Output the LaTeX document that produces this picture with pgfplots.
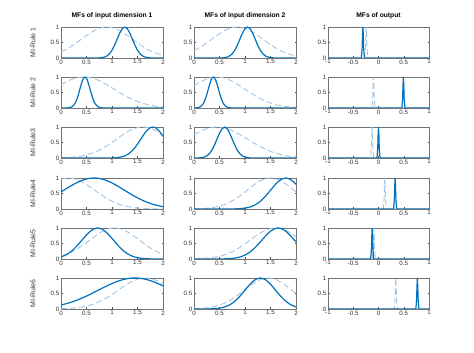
\documentclass[border=0pt]{standalone}
\usepackage{fontspec}
\setmainfont{Liberation Sans}
\usepackage{pgfplots}
\pgfplotsset{compat=1.18}
\definecolor{mblue}{rgb}{0,0.447,0.741}
\definecolor{mlight}{rgb}{0.64,0.77,0.90}
\pgfplotsset{
 mf/.style={scale only axis, width=102pt, height=31pt, ymin=0, ymax=1,
  ytick={0,0.5,1}, yticklabels={0,0.5,1},
  axis line style={draw=black!55, line width=0.4pt},
  tick style={draw=black!70, line width=0.4pt}, tick align=inside, major tick length=1.5pt,
  tick label style={font=\fontsize{6.2}{7}\selectfont, text=black!80},
  xticklabel style={inner sep=1pt, yshift=-0.5pt}, yticklabel style={inner sep=1.5pt},
  ylabel style={font=\fontsize{6.9}{8}\selectfont, text=black!80, at={(axis description cs:-0.275,0.5)}, anchor=center},
  title style={font=\bfseries\fontsize{6.7}{7.5}\selectfont, at={(axis description cs:0.5,1)}, anchor=base, inner sep=0pt, yshift=3pt},
  clip=true},
 c12/.style={mf, xmin=0, xmax=2, xtick={0,0.5,1,1.5,2}, xticklabels={0,0.5,1,1.5,2}},
 c3/.style={mf, xmin=-1, xmax=1, xtick={-1,-0.5,0,0.5,1}, xticklabels={-1,-0.5,0,0.5,1}},
 sol/.style={mblue, line width=1.2pt, no markers},
 das/.style={mlight, line width=0.9pt, dash pattern=on 6pt off 3pt, no markers}
}
\begin{document}
\begin{tikzpicture}
\path[use as bounding box] (0,0) rectangle (474pt,353pt);
% ---------------- Row 1
\begin{axis}[c12, at={(61pt,295pt)}, anchor=south west, title={MFs of input dimension 1}, ylabel={MI-Rule 1}]
\addplot[das,smooth] coordinates {(0,.198)(.1,.278)(.2,.375)(.3,.487)(.4,.607)(.5,.726)(.6,.835)(.7,.923)(.8,.980)(.9,1)(1.0,.980)(1.1,.923)(1.2,.835)(1.3,.726)(1.4,.607)(1.5,.487)(1.6,.375)(1.7,.278)(1.8,.198)(1.9,.135)(2.0,.089)};
\addplot[sol] coordinates {(0,0)(0.7,.001)(0.75,.004)(0.8,.011)(0.85,.029)(0.9,.066)(0.95,.135)(1.0,.249)(1.05,.411)(1.1,.607)(1.15,.801)(1.2,.946)(1.25,1)(1.3,.946)(1.35,.801)(1.4,.607)(1.45,.411)(1.5,.249)(1.55,.135)(1.6,.066)(1.65,.029)(1.7,.011)(1.75,.004)(1.8,.001)(2,0)};
\end{axis}
\begin{axis}[c12, at={(194pt,295pt)}, anchor=south west, title={MFs of input dimension 2}]
\addplot[das,smooth] coordinates {(0,.236)(.1,.325)(.2,.430)(.3,.546)(.4,.667)(.5,.783)(.6,.882)(.7,.956)(.8,.995)(.85,1)(.9,.995)(1.0,.956)(1.1,.882)(1.2,.783)(1.3,.667)(1.4,.546)(1.5,.430)(1.6,.325)(1.7,.236)(1.8,.164)(1.9,.110)(2.0,.071)};
\addplot[sol] coordinates {(0,0)(0.5,.001)(0.55,.004)(0.6,.011)(0.65,.029)(0.7,.066)(0.75,.135)(0.8,.249)(0.85,.411)(0.9,.607)(0.95,.801)(1.0,.946)(1.05,1)(1.1,.946)(1.15,.801)(1.2,.607)(1.25,.411)(1.3,.249)(1.35,.135)(1.4,.066)(1.45,.029)(1.5,.011)(1.55,.004)(1.6,.001)(2,0)};
\end{axis}
\begin{axis}[c3, at={(328pt,295pt)}, anchor=south west, width=101pt, title={MFs of output}]
\addplot[das] coordinates {(-1,0)(-0.273,0)(-0.258,.32)(-0.251,.73)(-0.243,1)(-0.235,.73)(-0.228,.32)(-0.213,0)(1,0)};
\addplot[sol] coordinates {(-1,0)(-0.339,0)(-0.324,.32)(-0.317,.73)(-0.309,1)(-0.301,.73)(-0.294,.32)(-0.279,0)(1,0)};
\end{axis}
% ---------------- Row 2
\begin{axis}[c12, at={(61pt,245pt)}, anchor=south west, ylabel={MI-Rule 2}]
\addplot[das,smooth] coordinates {(0,.750)(.1,.840)(.2,.915)(.3,.969)(.4,.996)(.45,1)(.5,.996)(.6,.969)(.7,.915)(.8,.840)(.9,.750)(1.0,.651)(1.1,.549)(1.2,.450)(1.3,.358)(1.4,.278)(1.5,.209)(1.6,.153)(1.7,.109)(1.8,.075)(1.9,.050)(2.0,.033)};
\addplot[sol] coordinates {(0,0)(0.12,.002)(0.17,.011)(0.22,.044)(0.27,.135)(0.295,.216)(0.32,.325)(0.345,.458)(0.37,.607)(0.395,.755)(0.42,.882)(0.445,.969)(0.47,1)(0.495,.969)(0.52,.882)(0.545,.755)(0.57,.607)(0.595,.458)(0.62,.325)(0.645,.216)(0.67,.135)(0.72,.044)(0.77,.011)(0.82,.002)(2,0)};
\end{axis}
\begin{axis}[c12, at={(194pt,245pt)}, anchor=south west]
\addplot[das,smooth] coordinates {(0,.716)(.1,.817)(.2,.902)(.3,.963)(.4,.996)(.45,1)(.5,.996)(.6,.963)(.7,.902)(.8,.817)(.9,.716)(1.0,.606)(1.1,.498)(1.2,.395)(1.3,.303)(1.4,.225)(1.5,.162)(1.6,.112)(1.7,.076)(1.8,.049)(1.9,.031)(2.0,.019)};
\addplot[sol] coordinates {(0,0)(0.03,.002)(0.08,.011)(0.13,.044)(0.18,.135)(0.205,.216)(0.23,.325)(0.255,.458)(0.28,.607)(0.305,.755)(0.33,.882)(0.355,.969)(0.38,1)(0.405,.969)(0.43,.882)(0.455,.755)(0.48,.607)(0.505,.458)(0.53,.325)(0.555,.216)(0.58,.135)(0.63,.044)(0.68,.011)(0.73,.002)(2,0)};
\end{axis}
\begin{axis}[c3, at={(328pt,245pt)}, anchor=south west, width=101pt]
\addplot[das] coordinates {(-1,0)(-0.129,0)(-0.114,.32)(-0.107,.73)(-0.099,1)(-0.091,.73)(-0.084,.32)(-0.069,0)(1,0)};
\addplot[sol] coordinates {(-1,0)(0.463,0)(0.478,.32)(0.485,.73)(0.493,1)(0.501,.73)(0.508,.32)(0.523,0)(1,0)};
\end{axis}
% ---------------- Row 3
\begin{axis}[c12, at={(61pt,195pt)}, anchor=south west, ylabel={MI-Rule3}]
\addplot[das,smooth] coordinates {(0,.008)(.1,.014)(.2,.024)(.3,.040)(.4,.064)(.5,.100)(.6,.149)(.7,.214)(.8,.296)(.9,.393)(1.0,.504)(1.1,.621)(1.2,.737)(1.3,.843)(1.4,.927)(1.5,.981)(1.6,1)(1.7,.981)(1.8,.927)(1.9,.843)(2.0,.737)};
\addplot[sol] coordinates {(0,0)(0.9,.001)(1.0,.003)(1.1,.013)(1.2,.040)(1.25,.067)(1.3,.107)(1.35,.164)(1.4,.240)(1.45,.335)(1.5,.448)(1.55,.572)(1.6,.700)(1.65,.818)(1.7,.915)(1.75,.978)(1.8,1)(1.85,.978)(1.9,.915)(1.95,.818)(2.0,.700)};
\end{axis}
\begin{axis}[c12, at={(194pt,195pt)}, anchor=south west]
\addplot[das,smooth] coordinates {(0,.755)(.1,.843)(.2,.917)(.3,.969)(.4,.997)(.45,1)(.5,.997)(.6,.969)(.7,.917)(.8,.843)(.9,.755)(1.0,.657)(1.1,.556)(1.2,.458)(1.3,.367)(1.4,.285)(1.5,.216)(1.6,.159)(1.7,.114)(1.8,.080)(1.9,.054)(2.0,.036)};
\addplot[sol] coordinates {(0,0)(0.05,.001)(0.1,.004)(0.15,.011)(0.2,.029)(0.25,.066)(0.3,.135)(0.35,.249)(0.4,.411)(0.45,.607)(0.5,.801)(0.55,.946)(0.6,1)(0.65,.946)(0.7,.801)(0.75,.607)(0.8,.411)(0.85,.249)(0.9,.135)(0.95,.066)(1.0,.029)(1.05,.011)(1.1,.004)(1.15,.001)(2,0)};
\end{axis}
\begin{axis}[c3, at={(328pt,195pt)}, anchor=south west, width=101pt]
\addplot[das] coordinates {(-1,0)(-0.155,0)(-0.140,.32)(-0.133,.73)(-0.125,1)(-0.117,.73)(-0.110,.32)(-0.095,0)(1,0)};
\addplot[sol] coordinates {(-1,0)(-0.030,0)(-0.015,.32)(-0.008,.73)(0,1)(0.008,.73)(0.015,.32)(0.030,0)(1,0)};
\end{axis}
% ---------------- Row 4
\begin{axis}[c12, at={(61pt,144pt)}, anchor=south west, ylabel={MI-Rule4}]
\addplot[das,smooth] coordinates {(0,.958)(.1,.995)(.15,1)(.2,.995)(.3,.958)(.4,.887)(.5,.790)(.6,.678)(.7,.559)(.8,.444)(.9,.340)(1.0,.250)(1.1,.177)(1.2,.120)(1.3,.079)(1.4,.050)(1.5,.030)(1.6,.018)(1.7,.010)(1.8,.005)(1.9,.003)(2.0,.001)};
\addplot[sol,smooth] coordinates {(0,.550)(.1,.652)(.2,.751)(.3,.841)(.4,.915)(.5,.969)(.6,.996)(.65,1)(.7,.996)(.8,.969)(.9,.915)(1.0,.841)(1.1,.751)(1.2,.652)(1.3,.550)(1.4,.451)(1.5,.360)(1.6,.279)(1.7,.210)(1.8,.154)(1.9,.110)(2.0,.076)};
\end{axis}
\begin{axis}[c12, at={(194pt,144pt)}, anchor=south west]
\addplot[das,smooth] coordinates {(0,.005)(.1,.009)(.2,.018)(.3,.032)(.4,.055)(.5,.092)(.6,.144)(.7,.217)(.8,.310)(.9,.423)(1.0,.550)(1.1,.682)(1.2,.806)(1.3,.909)(1.4,.976)(1.5,1)(1.6,.976)(1.7,.909)(1.8,.806)(1.9,.682)(2.0,.550)};
\addplot[sol,smooth] coordinates {(0,0)(.6,0)(.7,.001)(.8,.004)(.9,.011)(1.0,.028)(1.1,.065)(1.2,.134)(1.3,.247)(1.4,.409)(1.5,.605)(1.6,.800)(1.7,.946)(1.8,1)(1.9,.946)(2.0,.800)};
\end{axis}
\begin{axis}[c3, at={(328pt,144pt)}, anchor=south west, width=101pt]
\addplot[das] coordinates {(-1,0)(0.095,0)(0.110,.32)(0.117,.73)(0.125,1)(0.133,.73)(0.140,.32)(0.155,0)(1,0)};
\addplot[sol] coordinates {(-1,0)(0.299,0)(0.314,.32)(0.321,.73)(0.329,1)(0.337,.73)(0.344,.32)(0.359,0)(1,0)};
\end{axis}
% ---------------- Row 5
\begin{axis}[c12, at={(61pt,94pt)}, anchor=south west, ylabel={MI-Rule5}]
\addplot[das,smooth] coordinates {(0,.099)(.1,.150)(.2,.219)(.3,.307)(.4,.412)(.5,.530)(.6,.654)(.7,.773)(.8,.877)(.9,.954)(1.0,.995)(1.05,1)(1.1,.995)(1.2,.954)(1.3,.877)(1.4,.773)(1.5,.654)(1.6,.530)(1.7,.412)(1.8,.307)(1.9,.219)(2.0,.150)};
\addplot[sol,smooth] coordinates {(0,.067)(.1,.135)(.2,.245)(.3,.400)(.4,.587)(.5,.777)(.6,.928)(.7,.998)(.72,1)(.8,.967)(.9,.845)(1.0,.665)(1.1,.472)(1.2,.302)(1.3,.174)(1.4,.090)(1.5,.042)(1.6,.018)(1.7,.007)(1.8,.002)(1.9,.001)(2.0,0)};
\end{axis}
\begin{axis}[c12, at={(194pt,94pt)}, anchor=south west]
\addplot[das,smooth] coordinates {(0,.006)(.1,.011)(.2,.020)(.3,.034)(.4,.056)(.5,.089)(.6,.135)(.7,.198)(.8,.278)(.9,.375)(1.0,.487)(1.1,.607)(1.2,.726)(1.3,.835)(1.4,.923)(1.5,.980)(1.6,1)(1.7,.980)(1.8,.923)(1.9,.835)(2.0,.726)};
\addplot[sol,smooth] coordinates {(0,0)(.4,0)(.5,.002)(.6,.005)(.7,.012)(.8,.029)(.9,.064)(1.0,.127)(1.1,.229)(1.2,.372)(1.3,.550)(1.4,.737)(1.5,.896)(1.6,.988)(1.65,1)(1.7,.988)(1.8,.896)(1.9,.737)(2.0,.550)};
\end{axis}
\begin{axis}[c3, at={(328pt,94pt)}, anchor=south west, width=101pt]
\addplot[das] coordinates {(-1,0)(-0.122,0)(-0.107,.32)(-0.100,.73)(-0.092,1)(-0.084,.73)(-0.077,.32)(-0.062,0)(1,0)};
\addplot[sol] coordinates {(-1,0)(-0.155,0)(-0.140,.32)(-0.133,.73)(-0.125,1)(-0.117,.73)(-0.110,.32)(-0.095,0)(1,0)};
\end{axis}
% ---------------- Row 6
\begin{axis}[c12, at={(61pt,44pt)}, anchor=south west, ylabel={MI-Rule6}]
\addplot[das,smooth] coordinates {(0,.008)(.1,.014)(.2,.024)(.3,.039)(.4,.062)(.5,.095)(.6,.141)(.7,.201)(.8,.276)(.9,.367)(1.0,.471)(1.1,.584)(1.2,.698)(1.3,.804)(1.4,.895)(1.5,.961)(1.6,.996)(1.65,1)(1.7,.996)(1.8,.961)(1.9,.895)(2.0,.804)};
\addplot[sol,smooth] coordinates {(0,.130)(.1,.170)(.2,.219)(.3,.277)(.4,.343)(.5,.416)(.6,.496)(.7,.579)(.8,.664)(.9,.745)(1.0,.821)(1.1,.888)(1.2,.941)(1.3,.978)(1.4,.998)(1.45,1)(1.5,.998)(1.6,.978)(1.7,.941)(1.8,.888)(1.9,.821)(2.0,.745)};
\end{axis}
\begin{axis}[c12, at={(194pt,44pt)}, anchor=south west]
\addplot[das,smooth] coordinates {(0,.008)(.1,.015)(.2,.028)(.3,.048)(.4,.080)(.5,.127)(.6,.191)(.7,.276)(.8,.380)(.9,.500)(1.0,.629)(1.1,.755)(1.2,.867)(1.3,.950)(1.4,.994)(1.45,1)(1.5,.994)(1.6,.950)(1.7,.867)(1.8,.755)(1.9,.629)(2.0,.500)};
\addplot[sol,smooth] coordinates {(0,0)(.1,0)(.2,.001)(.3,.004)(.4,.011)(.5,.028)(.6,.066)(.7,.135)(.8,.249)(.9,.411)(1.0,.607)(1.1,.801)(1.2,.946)(1.3,1)(1.4,.946)(1.5,.801)(1.6,.607)(1.7,.411)(1.8,.249)(1.9,.135)(2.0,.066)};
\end{axis}
\begin{axis}[c3, at={(328pt,44pt)}, anchor=south west, width=101pt]
\addplot[das] coordinates {(-1,0)(0.312,0)(0.327,.32)(0.334,.73)(0.342,1)(0.350,.73)(0.357,.32)(0.372,0)(1,0)};
\addplot[sol] coordinates {(-1,0)(0.740,0)(0.755,.32)(0.762,.73)(0.770,1)(0.778,.73)(0.785,.32)(0.800,0)(1,0)};
\end{axis}
\end{tikzpicture}
\end{document}
